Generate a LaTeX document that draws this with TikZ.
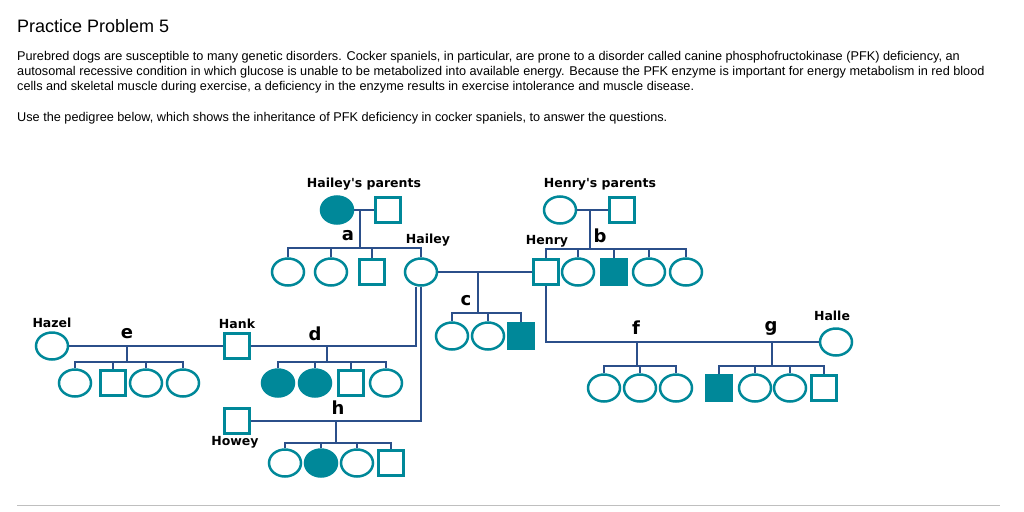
\documentclass[tikz,border=0pt]{standalone}
\usepackage{fontspec}
\setmainfont{Liberation Sans}
\newfontfamily\pedfont{DejaVu Sans}
\usetikzlibrary{calc,shapes.geometric}
\definecolor{teal}{RGB}{0,136,153}
\definecolor{linkblue}{RGB}{43,79,138}
\tikzset{
  fem/.style={draw=teal, line width=2.5pt, ellipse, minimum width=32pt, minimum height=27pt, inner sep=0pt},
  mal/.style={draw=teal, line width=2.5pt, rectangle, minimum size=25pt, inner sep=0pt},
  aff/.style={fill=teal},
  link/.style={draw=linkblue, line width=2.5pt},
  lbl/.style={font=\pedfont\bfseries\fontsize{12.5}{14}\selectfont},
  tag/.style={font=\pedfont\bfseries\fontsize{18}{20}\selectfont},
  para/.style={anchor=west, font=\fontsize{12.7}{14}\selectfont, inner sep=0pt}
}
\begin{document}
\begin{tikzpicture}[x=1pt, y=-1pt]
  \useasboundingbox (0,0) rectangle (1024,511);
  % header text
  \node[anchor=west, inner sep=0pt, font=\fontsize{18}{21}\selectfont] (title) at (17,26) {Practice Problem 5};
  \node[para] (p1) at (17,57) {Purebred dogs are susceptible to many genetic disorders. Cocker spaniels, in particular, are prone to a disorder called canine phosphofructokinase (PFK) deficiency, an};
  \node[para] (p2) at (17,72) {autosomal recessive condition in which glucose is unable to be metabolized into available energy. Because the PFK enzyme is important for energy metabolism in red blood};
  \node[para] (p3) at (17,87) {cells and skeletal muscle during exercise, a deficiency in the enzyme results in exercise intolerance and muscle disease.};
  \node[para] (p4) at (17,118) {Use the pedigree below, which shows the inheritance of PFK deficiency in cocker spaniels, to answer the questions.};
  \draw[gray!50, line width=1pt] (17,505) -- (1000,505);

  % Hailey's parents and sibs
  \node[fem, aff] (hpm) at (337,210) {};
  \node[mal] (hpf) at (388,210) {};
  \node[fem] (a1) at (288,272) {};
  \node[fem] (a2) at (331,272) {};
  \node[mal] (a3) at (372,272) {};
  \node[fem] (hailey) at (421,272) {};
  \coordinate (ja) at (360,210);
  \draw[link] (hpm) -- (hpf);
  \draw[link] (ja) -- (360,248);
  \draw[link] (a1.north) |- (360,248) -| (hailey.north);
  \foreach \k in {a2,a3} \draw[link] (\k.north) -- (\k.north |- 0,248);

  % Henry's parents and sibs
  \node[fem] (Hpm) at (560,210) {};
  \node[mal] (Hpf) at (622,210) {};
  \node[mal] (henry) at (546,272) {};
  \node[fem] (b1) at (578,272) {};
  \node[mal, aff] (b2) at (614,272) {};
  \node[fem] (b3) at (649,272) {};
  \node[fem] (b4) at (686,272) {};
  \coordinate (jb) at (590,210);
  \draw[link] (Hpm) -- (Hpf);
  \draw[link] (jb) -- (590,249);
  \draw[link] (henry.north) |- (590,249) -| (b4.north);
  \foreach \k in {b1,b2,b3} \draw[link] (\k.north) -- (\k.north |- 0,249);

  % Hailey x Henry
  \node[fem] (c1) at (452,336) {};
  \node[fem] (c2) at (488,336) {};
  \node[mal, aff] (c3) at (521,336) {};
  \draw[link] (hailey) -- (henry);
  \draw[link] (478,272) -- (478,313);
  \draw[link] (c1.north) |- (478,313) -| (c3.north);
  \draw[link] (c2.north) -- (c2.north |- 0,313);

  % Henry x Halle
  \node[fem] (halle) at (836,342) {};
  \draw[link] (henry.south) |- (halle.west);
  \node[fem] (f1) at (604,388) {};
  \node[fem] (f2) at (640,388) {};
  \node[fem] (f3) at (676,388) {};
  \draw[link] (637,342) -- (637,366);
  \draw[link] (f1.north) |- (637,366) -| (f3.north);
  \draw[link] (f2.north) -- (f2.north |- 0,366);
  \node[mal, aff] (g1) at (719,388) {};
  \node[fem] (g2) at (755,388) {};
  \node[fem] (g3) at (790,388) {};
  \node[mal] (g4) at (824,388) {};
  \draw[link] (772,342) -- (772,366);
  \draw[link] (g1.north) |- (772,366) -| (g4.north);
  \foreach \k in {g2,g3} \draw[link] (\k.north) -- (\k.north |- 0,366);

  % Hazel x Hank, Hailey x Hank, Hailey x Howey
  \node[fem] (hazel) at (52,346) {};
  \node[mal] (hank) at (237,346) {};
  \node[mal] (howey) at (237,421) {};
  \draw[link] (hazel) -- (hank);
  \draw[link] ([xshift=-5pt]hailey.south) |- (hank.east);
  \draw[link] ([xshift=0pt]hailey.south) |- (howey.east);

  \node[fem] (e1) at (75,383) {};
  \node[mal] (e2) at (113,383) {};
  \node[fem] (e3) at (146,383) {};
  \node[fem] (e4) at (183,383) {};
  \draw[link] (127,346) -- (127,362);
  \draw[link] (e1.north) |- (127,362) -| (e4.north);
  \foreach \k in {e2,e3} \draw[link] (\k.north) -- (\k.north |- 0,362);

  \node[fem, aff] (d1) at (278,383) {};
  \node[fem, aff] (d2) at (315,383) {};
  \node[mal] (d3) at (351,383) {};
  \node[fem] (d4) at (386,383) {};
  \draw[link] (327,346) -- (327,362);
  \draw[link] (d1.north) |- (327,362) -| (d4.north);
  \foreach \k in {d2,d3} \draw[link] (\k.north) -- (\k.north |- 0,362);

  \node[fem] (h1) at (285,463) {};
  \node[fem, aff] (h2) at (321,463) {};
  \node[fem] (h3) at (357,463) {};
  \node[mal] (h4) at (391,463) {};
  \draw[link] (336,421) -- (336,443);
  \draw[link] (h1.north) |- (336,443) -| (h4.north);
  \foreach \k in {h2,h3} \draw[link] (\k.north) -- (\k.north |- 0,443);

  % labels
  \node[lbl] at (364,184) {Hailey's parents};
  \node[lbl] at (600,184) {Henry's parents};
  \node[lbl] at (428,240) {Hailey};
  \node[lbl] at (547,241) {Henry};
  \node[lbl] at (52,323) {Hazel};
  \node[lbl] at (237,324) {Hank};
  \node[lbl] at (235,442) {Howey};
  \node[lbl] at (832,316) {Halle};
  \node[tag] at (348,236) {a};
  \node[tag] at (600,236) {b};
  \node[tag] at (466,301) {c};
  \node[tag] at (315,334) {d};
  \node[tag] at (127,334) {e};
  \node[tag] at (636,328) {f};
  \node[tag] at (771,328) {g};
  \node[tag] at (338,408) {h};
\end{tikzpicture}
\end{document}
